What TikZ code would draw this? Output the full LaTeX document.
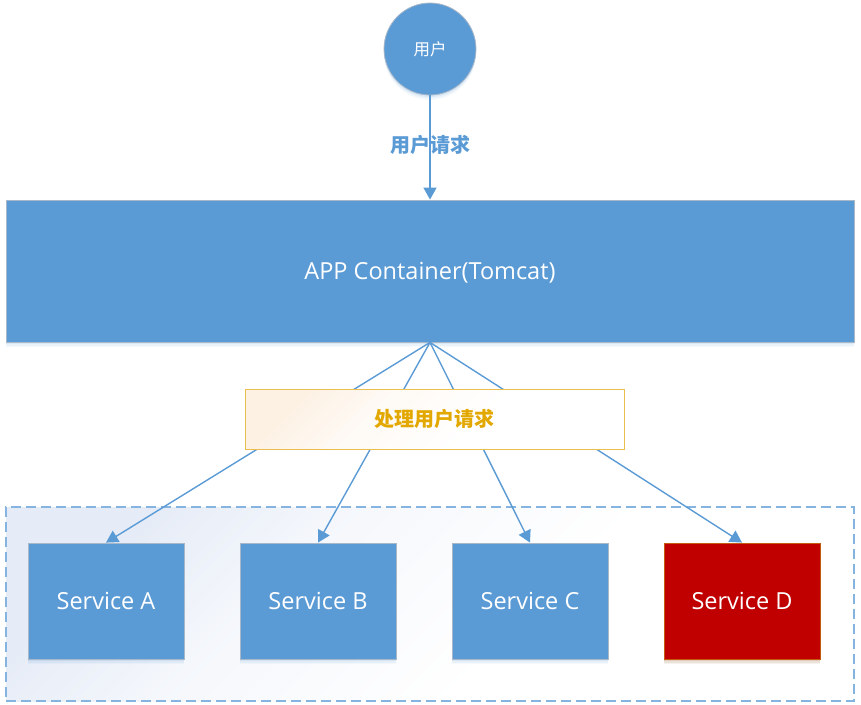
\documentclass[tikz,border=0pt]{standalone}
\usepackage{fontspec}
\setmainfont{Open Sans}
\newfontfamily\cjk{Noto Sans CJK SC}
\usetikzlibrary{arrows.meta,shadows}
\definecolor{bluefill}{HTML}{5B9BD5}
\definecolor{blueedge}{HTML}{A9B8C9}
\definecolor{redfill}{HTML}{C00000}
\definecolor{redline}{HTML}{C55A11}
\definecolor{goldline}{HTML}{EBBF4E}
\definecolor{goldtext}{HTML}{E3A800}
\definecolor{groupcorner}{HTML}{E6ECF7}
\definecolor{workcorner}{HTML}{FDF1E4}
\pgfdeclarehorizontalshading{groupfade}{100bp}{color(0bp)=(groupcorner); color(25bp)=(groupcorner); color(38bp)=(groupcorner!40!white); color(58bp)=(white); color(100bp)=(white)}
\pgfdeclarehorizontalshading{workfade}{100bp}{color(0bp)=(workcorner); color(25bp)=(workcorner); color(38bp)=(workcorner!40!white); color(58bp)=(white); color(100bp)=(white)}
\tikzset{
  soft/.style={
    drop shadow={shadow xshift=0pt,shadow yshift=-5pt,opacity=.05,fill=#1},
    drop shadow={shadow xshift=0pt,shadow yshift=-3.5pt,opacity=.08,fill=#1},
    drop shadow={shadow xshift=0pt,shadow yshift=-2pt,opacity=.12,fill=#1}},
  box/.style={rectangle,inner sep=0pt,text=white,text height=22pt,text depth=5pt,font=\fontsize{23.5}{28}\selectfont},
  app/.style={box,fill=bluefill,draw=blueedge,line width=.8pt,soft=bluefill,minimum width=848pt,minimum height=142pt},
  service/.style={box,fill=bluefill,draw=blueedge,line width=.8pt,soft=bluefill,minimum width=156pt,minimum height=116pt},
  hot/.style={service,fill=redfill,draw=redline,soft=orange},
  link/.style={bluefill,line width=1.4pt,-{Triangle[length=12pt,width=13pt]}},
  fade/.style={shade,shading=#1,shading angle=-45},
}
\begin{document}
\begin{tikzpicture}[x=1pt,y=-1pt]
\useasboundingbox (0,0) rectangle (861,704);
% group behind the services
\node[rectangle,inner sep=0pt,minimum width=848pt,minimum height=194pt,fade=groupfade,
  draw=bluefill!75!white,dash pattern=on 10pt off 5pt,line width=1.4pt] (group) at (430,604) {};
% top
\node[circle,inner sep=0pt,minimum size=92pt,fill=bluefill,draw=blueedge,line width=.8pt,soft=bluefill,text=white,font=\cjk\fontsize{16.5}{20}\selectfont] (user) at (430,49) {用户};
\node[app] (app) at (430,271) {APP Container(Tomcat)};
% services
\node[service] (sa) at (106,601) {Service A};
\node[service] (sb) at (318,601) {Service B};
\node[service] (sc) at (530,601) {Service C};
\node[hot] (sd) at (742,601) {Service D};
% connectors
\draw[link] (user) -- (app);
\draw[link] (app.south) -- (sa.north);
\draw[link] (app.south) -- (sb.north);
\draw[link] (app.south) -- (sc.north);
\draw[link] (app.south) -- (sd.north);
% labels on top of the lines
\node[inner sep=0pt,text=bluefill,font=\cjk\bfseries\fontsize{20}{24}\selectfont] (req) at (430,145) {用户请求};
\node[rectangle,inner sep=0pt,minimum width=379pt,minimum height=60pt,fade=workfade,
  draw=goldline,line width=1pt,text=goldtext,font=\cjk\bfseries\fontsize{20}{24}\selectfont] (work) at (434.5,419) {处理用户请求};
\end{tikzpicture}
\end{document}
